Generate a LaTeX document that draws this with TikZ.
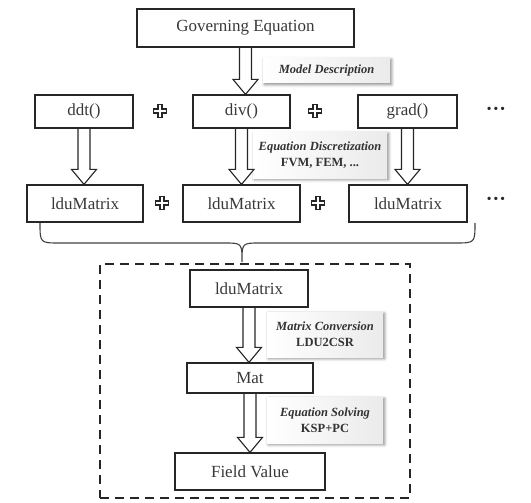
\documentclass[tikz,border=0pt]{standalone}
\usepackage{fontspec}
\setmainfont{Liberation Serif}
\usetikzlibrary{calc,shadows.blur}
\begin{document}
\begin{tikzpicture}[x=1pt,y=-1pt,
  box/.style={draw=black!85, line width=1.2pt, text=black!78, inner sep=0pt,
    font=\fontsize{17}{20}\selectfont},
  lab/.style={inner sep=0pt, align=center, text=black!80,
    font=\fontsize{12.5}{16}\selectfont\bfseries,
    left color=white, right color=black!8,
    blur shadow={shadow blur radius=3pt, shadow xshift=1.5pt, shadow yshift=-1.5pt, shadow opacity=50}},
  hollow/.style={line width=1.1pt, draw=black!85, to path={let \p1=(\tikztostart), \p2=(\tikztotarget) in
    (\x1-6pt,\y1) -- (\x1-6pt,\y2+15pt) -- (\x1-12.5pt,\y2+15pt) -- (\x1,\y2) -- (\x1+12.5pt,\y2+15pt) -- (\x1+6pt,\y2+15pt) -- (\x1+6pt,\y1)}},
  hplus/.pic={\draw[line width=1.4pt, draw=black!85, line join=miter] (-2,-6.5) -- (2,-6.5) -- (2,-2) -- (6.5,-2) -- (6.5,2) -- (2,2) -- (2,6.5) -- (-2,6.5) -- (-2,2) -- (-6.5,2) -- (-6.5,-2) -- (-2,-2) -- cycle;},
  dots/.style={font=\fontsize{20}{22}\selectfont\bfseries, text=black!85, inner sep=0pt}]
\useasboundingbox (0,0) rectangle (531,503);

% top
\node[box, minimum width=217, minimum height=38] (gov) at (245.5,28) {Governing Equation};

% row 2
\node[box, minimum width=98, minimum height=33] (ddt) at (84,111.5) {ddt()};
\node[box, minimum width=97, minimum height=33] (div) at (241.5,111.5) {div()};
\node[box, minimum width=99, minimum height=33] (grad) at (407.5,111.5) {grad()};
\pic at (160,111) {hplus};
\pic at (315,111) {hplus};
\node[dots] (d1) at (496,111) {···};

% row 3
\node[box, minimum width=116, minimum height=37] (l1) at (85,203.5) {lduMatrix};
\node[box, minimum width=117, minimum height=37] (l2) at (241.5,203.5) {lduMatrix};
\node[box, minimum width=118, minimum height=37] (l3) at (408,203.5) {lduMatrix};
\pic at (162,203) {hplus};
\pic at (318,203) {hplus};
\node[dots] (d2) at (496,201) {···};

% labels
\node[lab, minimum width=127, minimum height=25] (md) at (326.5,70.5) {\itshape Model Description};
\node[lab, minimum width=134, minimum height=46] (ed) at (320,155) {\itshape Equation Discretization\\FVM, FEM, ...};

% arrows
\draw[hollow] (gov.south) to (div.north);
\draw[hollow] (ddt.south) to (l1.north);
\draw[hollow] (div.south) to (l2.north);
\draw[hollow] (grad.south) to (l3.north);

% brace
\coordinate (bl) at (40,223);
\coordinate (br) at (475,223);
\coordinate (bt) at (242,262);
\draw[line width=1.1pt, draw=black!75]
  (bl) .. controls (40,243) .. (60,243) -- (224,243) .. controls (242,243) .. (bt)
  .. controls (242,243) .. (260,243) -- (455,243) .. controls (475,243) .. (br);

% dashed group
\node[draw=black!85, line width=1.3pt, dash pattern=on 9pt off 6pt,
  minimum width=310, minimum height=234, inner sep=0pt] (grp) at (255,381) {};

\node[box, minimum width=118, minimum height=37] (l4) at (249,288.5) {lduMatrix};
\node[box, minimum width=126, minimum height=30] (mat) at (250,378) {Mat};
\node[box, minimum width=150, minimum height=37] (fv) at (250,471.5) {Field Value};

\node[lab, minimum width=116, minimum height=45] (mc) at (325,334.5) {\itshape Matrix Conversion\\LDU2CSR};
\node[lab, minimum width=116, minimum height=46] (es) at (325,420) {\itshape Equation Solving\\KSP+PC};

\draw[hollow] (l4.south) to (mat.north);
\draw[hollow] (mat.south) to (fv.north);
\end{tikzpicture}
\end{document}
